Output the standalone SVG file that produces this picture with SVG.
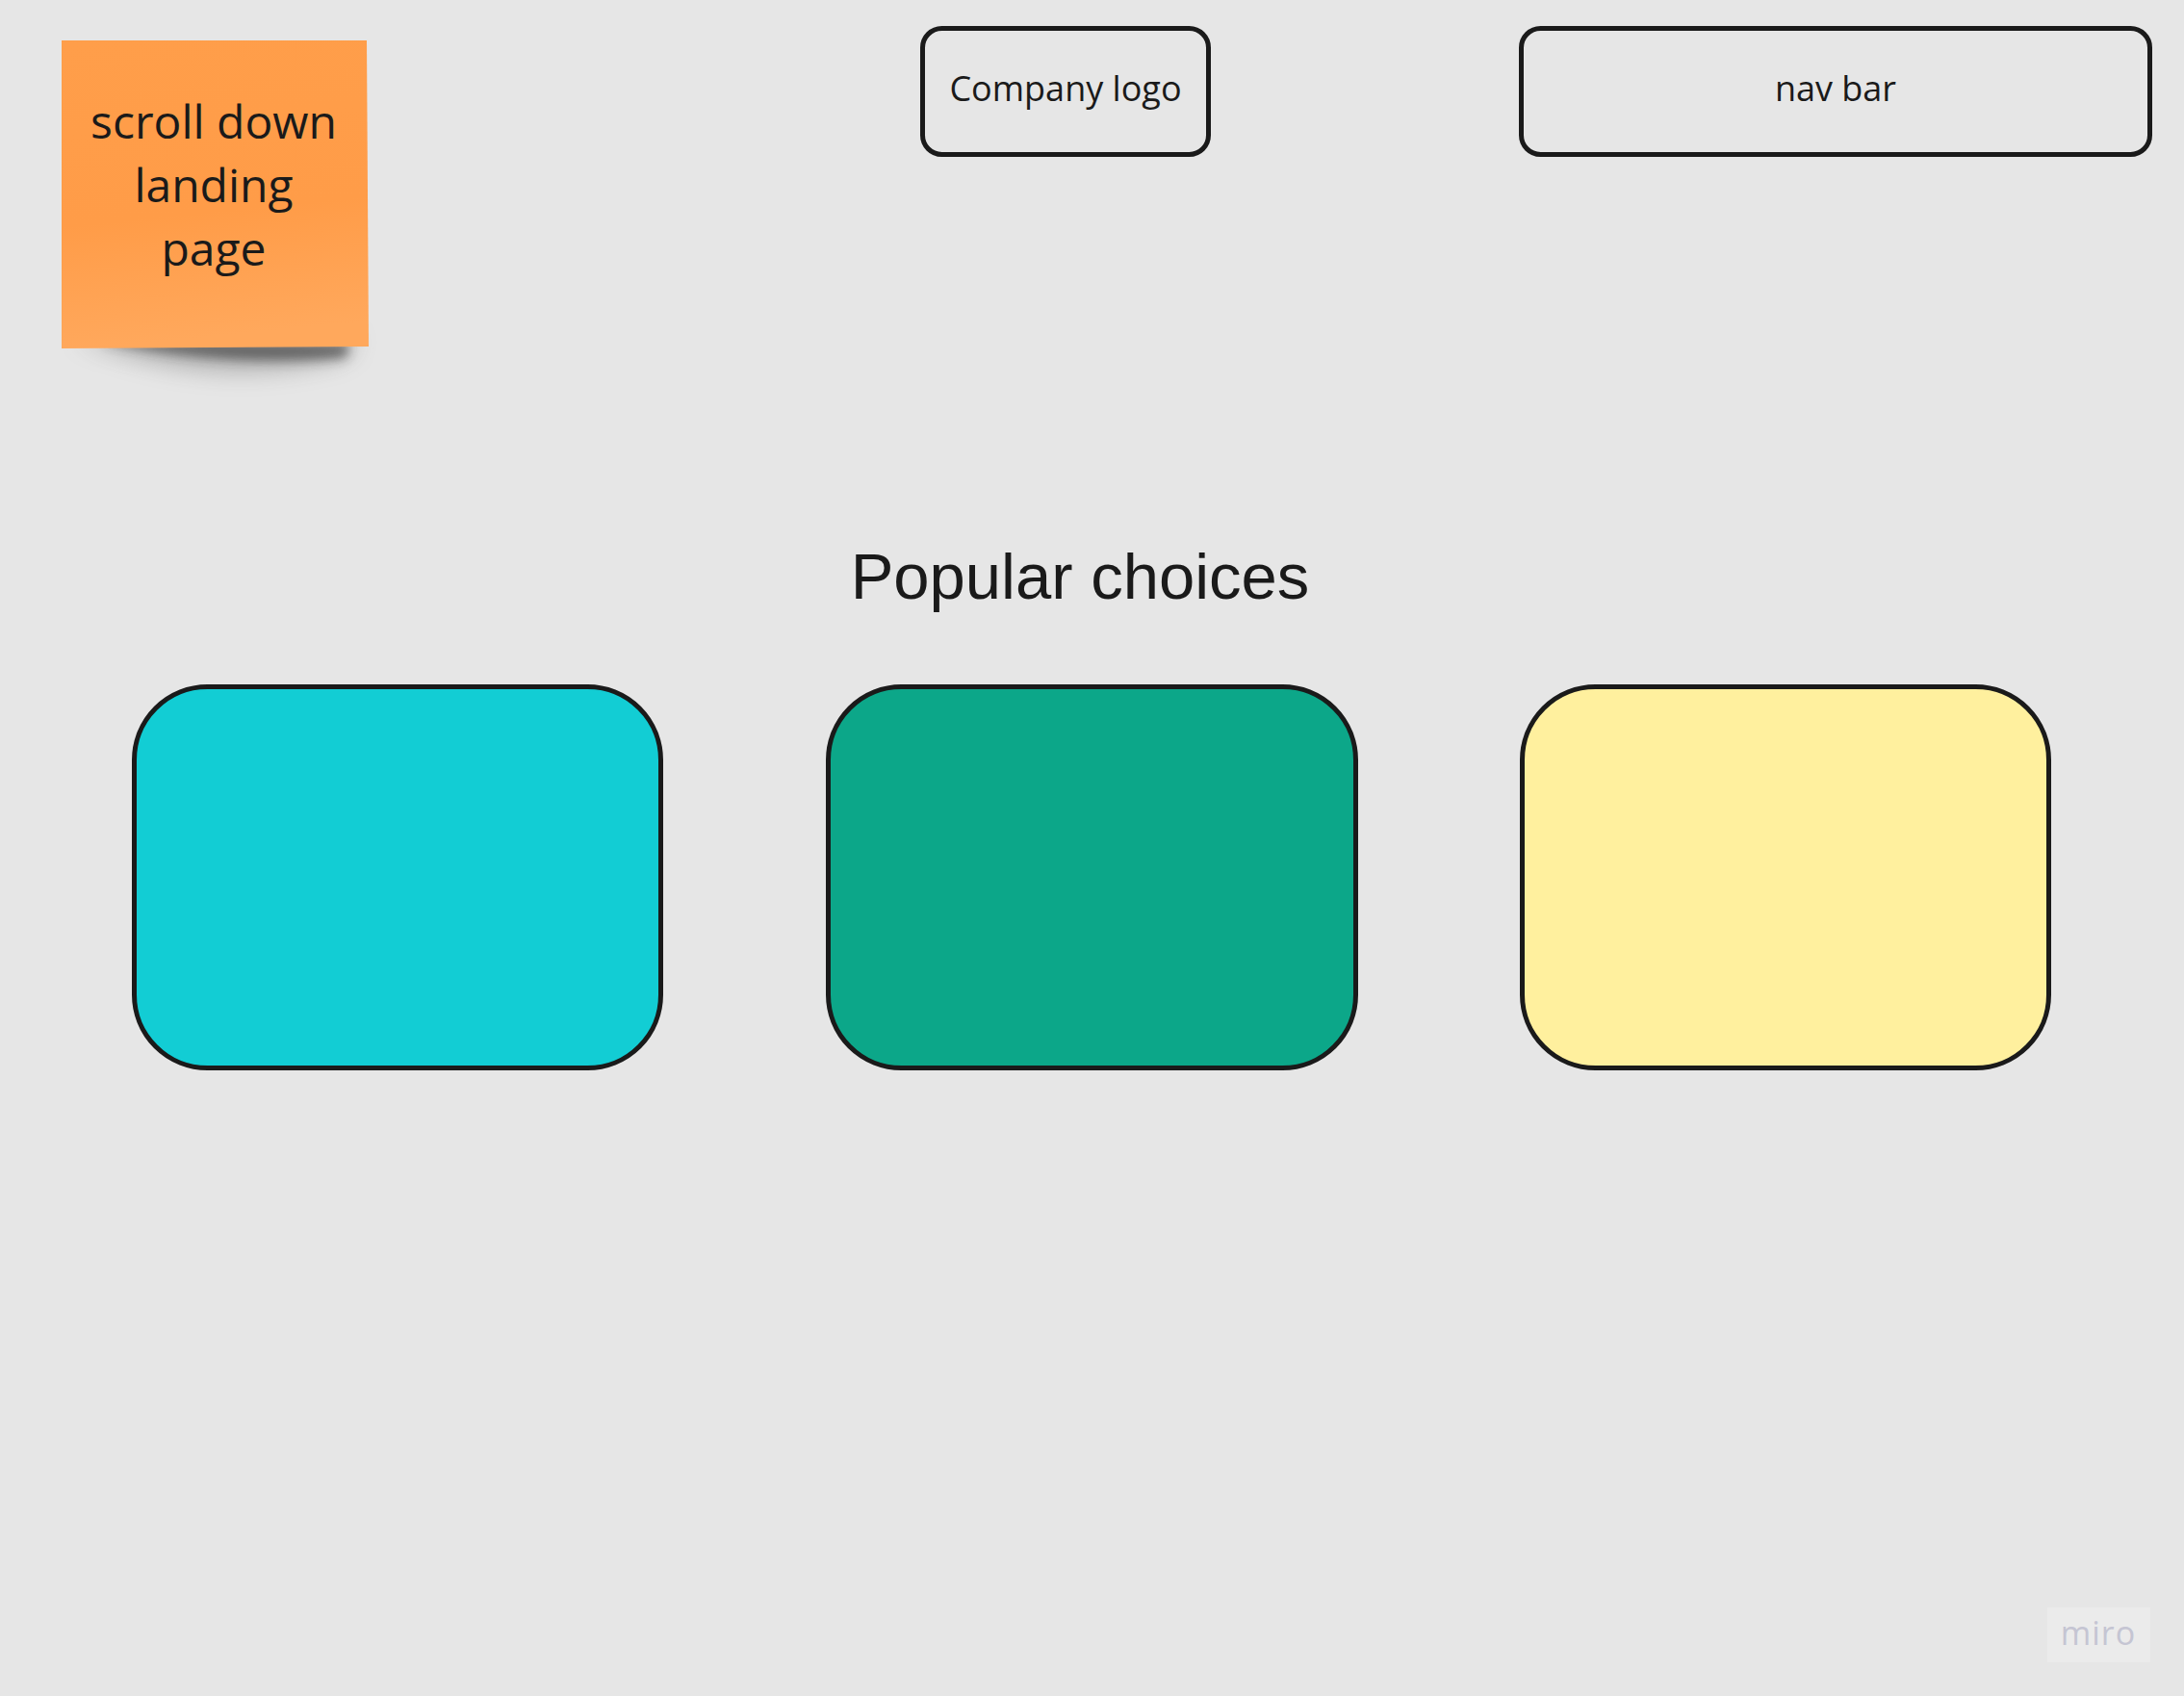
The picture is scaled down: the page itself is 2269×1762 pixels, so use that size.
<svg xmlns="http://www.w3.org/2000/svg" width="2269" height="1762" viewBox="0 0 2269 1762">
  <style>
    .outline { fill: none; stroke: #1a1a1a; stroke-width: 5; }
    .card { stroke: #1a1a1a; stroke-width: 5; }
    .label { font-family: "Open Sans", "Noto Sans", "DejaVu Sans", sans-serif; font-size: 36px; fill: #1a1a1a; text-anchor: middle; }
    .sticky-text { font-family: "Open Sans", "Noto Sans", "DejaVu Sans", sans-serif; font-size: 48px; fill: #1a1a1a; text-anchor: middle; }
    .title { font-family: "Liberation Sans", Arial, sans-serif; font-size: 67px; fill: #1a1a1a; text-anchor: middle; }
  </style>
  <defs>
    <linearGradient id="stickyGrad" x1="0" y1="0" x2="0.1" y2="1">
      <stop offset="0" stop-color="#FF9E4A"/>
      <stop offset="0.6" stop-color="#FF9C48"/>
      <stop offset="1" stop-color="#FFA85C"/>
    </linearGradient>
    <filter id="shadowBlur" x="-30%" y="-100%" width="160%" height="300%">
      <feGaussianBlur stdDeviation="12"/>
    </filter>
    <filter id="shadowBlur2" x="-30%" y="-100%" width="160%" height="300%">
      <feGaussianBlur stdDeviation="6"/>
    </filter>
  </defs>
  <rect x="0" y="0" width="2269" height="1762" fill="#E6E6E6"/>

  <g id="sticky-note">
    <path d="M75 350 Q220 410 360 372 L372 350 Z" fill="#555" opacity="0.35" filter="url(#shadowBlur)"/>
    <path d="M110 356 Q240 382 356 372 Q366 366 360 356 L110 352 Z" fill="#333" opacity="0.6" filter="url(#shadowBlur2)"/>
    <path d="M64 42 L381 42 L383 360 L64 362 Z" fill="url(#stickyGrad)"/>
    <text class="sticky-text" x="222" y="144">scroll down</text>
    <text class="sticky-text" x="222" y="210">landing</text>
    <text class="sticky-text" x="222" y="276">page</text>
  </g>

  <g id="company-logo">
    <rect class="outline" x="958.5" y="29.5" width="297" height="131" rx="20"/>
    <text class="label" x="1107" y="105">Company logo</text>
  </g>

  <g id="nav-bar">
    <rect class="outline" x="1580.5" y="29.5" width="653" height="131" rx="20"/>
    <text class="label" x="1907" y="105">nav bar</text>
  </g>

  <g id="title">
    <text class="title" x="1122" y="622">Popular choices</text>
  </g>

  <g id="card-1">
    <rect class="card" x="139.5" y="713.5" width="547" height="396" rx="76" fill="#12CDD4"/>
  </g>
  <g id="card-2">
    <rect class="card" x="860.5" y="713.5" width="548" height="396" rx="76" fill="#0CA789"/>
  </g>
  <g id="card-3">
    <rect class="card" x="1581.5" y="713.5" width="547" height="396" rx="76" fill="#FFF09E"/>
  </g>

  <g id="connectors"></g>

  <g id="miro-badge">
    <rect x="2127" y="1670" width="107" height="57" fill="#EBEBEB"/>
    <text x="2180" y="1709" font-family="'Open Sans', Inter, sans-serif" font-size="34" font-weight="400" fill="#C5C5D3" text-anchor="middle" letter-spacing="1">miro</text>
  </g>
</svg>
